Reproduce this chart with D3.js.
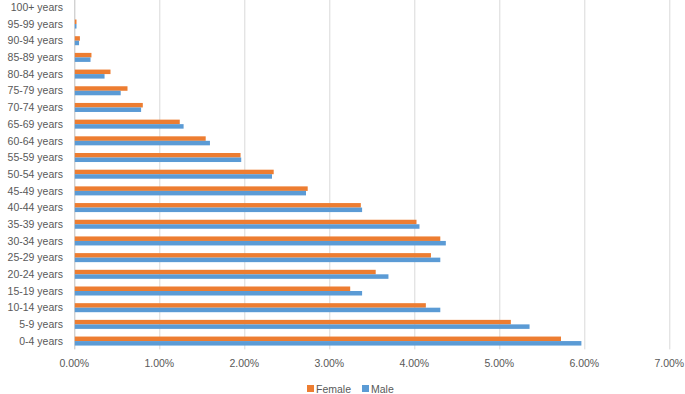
<!DOCTYPE html>
<html>
<head>
<meta charset="utf-8">
<script src="https://cdn.jsdelivr.net/npm/d3@7"></script>
<style>
  body { margin: 0; background: #fff; }
  svg { display: block; }
</style>
</head>
<body>
<div id="chart"></div>
<script>
// age groups, bottom to top as drawn
var ages = ['0-4 years', '5-9 years', '10-14 years', '15-19 years', '20-24 years',
  '25-29 years', '30-34 years', '35-39 years', '40-44 years', '45-49 years',
  '50-54 years', '55-59 years', '60-64 years', '65-69 years', '70-74 years',
  '75-79 years', '80-84 years', '85-89 years', '90-94 years', '95-99 years', '100+ years'];

// share of population, %
var female = [5.72, 5.13, 4.13, 3.24, 3.54, 4.19, 4.30, 4.02, 3.365, 2.74,
  2.34, 1.95, 1.54, 1.235, 0.80, 0.62, 0.42, 0.196, 0.06, 0.02, 0.0];
var male = [5.96, 5.35, 4.30, 3.38, 3.69, 4.30, 4.365, 4.055, 3.38, 2.72,
  2.32, 1.958, 1.59, 1.28, 0.78, 0.54, 0.35, 0.185, 0.05, 0.02, 0.0];

var ticks = [0, 1, 2, 3, 4, 5, 6, 7];
var seriesNames = ['Female', 'Male'];
var colors = ['#ED7D31', '#5B9BD5'];

var w = 685;
var h = 394;
var font = 'Liberation Sans, Arial, sans-serif';

var x = d3.scaleLinear()
  .domain([0, 7])
  .range([74.3, 669.3]);

var y = d3.scaleBand()
  .domain(ages.slice().reverse())
  .range([-1, 349.4])
  .paddingInner(0)
  .paddingOuter(0);

var inner = d3.scaleBand()
  .domain(seriesNames)
  .range([0, y.bandwidth()])
  .paddingInner(0)
  .paddingOuter(0.85);

var svg = d3.select('#chart')
  .append('svg')
  .attr('width', w)
  .attr('height', h);

// gridlines
svg.append('g')
  .selectAll('line')
  .data(ticks)
  .enter()
  .append('line')
  .attr('x1', d => x(d) + 0.5)
  .attr('x2', d => x(d) + 0.5)
  .attr('y1', 0)
  .attr('y2', 349.4)
  .attr('stroke', d => d === 0 ? '#bfbfbf' : '#d9d9d9')
  .attr('stroke-width', 1);

// x tick labels
svg.append('g')
  .selectAll('text')
  .data(ticks)
  .enter()
  .append('text')
  .attr('x', d => x(d))
  .attr('y', 367)
  .attr('text-anchor', 'middle')
  .attr('font-family', font)
  .attr('font-size', 10.5)
  .attr('fill', '#595959')
  .text(d => d3.format('.2f')(d) + '%');

// category labels
svg.append('g')
  .selectAll('text')
  .data(ages)
  .enter()
  .append('text')
  .attr('x', 63)
  .attr('y', d => y(d) + y.bandwidth() / 2)
  .attr('dy', '0.35em')
  .attr('text-anchor', 'end')
  .attr('font-family', font)
  .attr('font-size', 10.5)
  .attr('fill', '#595959')
  .text(d => d);

// bars
var rows = ages.map((a, i) => ({age: a, vals: [female[i], male[i]]}));

var groups = svg.append('g')
  .selectAll('g')
  .data(rows)
  .enter()
  .append('g')
  .attr('transform', d => 'translate(0,' + y(d.age) + ')');

groups.selectAll('rect')
  .data(d => d.vals.map((v, j) => ({name: seriesNames[j], v: v, c: colors[j]})))
  .enter()
  .append('rect')
  .attr('x', x(0) + 0.5)
  .attr('y', d => inner(d.name))
  .attr('width', d => Math.max(0, x(d.v) - x(0)))
  .attr('height', inner.bandwidth())
  .attr('fill', d => d.c);

// legend
var legend = svg.append('g')
  .selectAll('g')
  .data(seriesNames)
  .enter()
  .append('g')
  .attr('transform', (d, i) => 'translate(' + [307, 362][i] + ',389)');

legend.append('rect')
  .attr('x', 0)
  .attr('y', -4)
  .attr('width', 7)
  .attr('height', 7)
  .attr('fill', (d, i) => colors[i]);

legend.append('text')
  .attr('x', 9)
  .attr('y', 0)
  .attr('dy', '0.35em')
  .attr('font-family', font)
  .attr('font-size', 10.5)
  .attr('fill', '#595959')
  .text(d => d);
</script>
</body>
</html>
